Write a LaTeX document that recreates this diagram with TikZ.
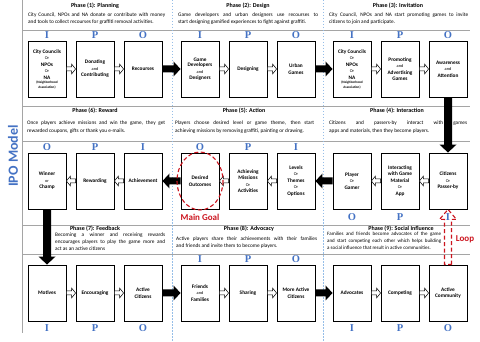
\documentclass[tikz,border=0pt]{standalone}
\usepackage{fontspec}
\setmainfont{Carlito}
\newfontfamily\ipofont{Liberation Serif}
\usetikzlibrary{calc}
\definecolor{ipoblue}{RGB}{68,114,196}
\definecolor{goalred}{RGB}{204,20,30}
\definecolor{sepgray}{RGB}{165,165,165}
\definecolor{dotblue}{RGB}{150,190,232}
\tolerance=9999
\hyphenpenalty=10000
\emergencystretch=8pt
\newcommand\ortxt{{\mdseries\fontsize{4.3}{6}\selectfont Or}}
\newcommand\andtxt{{\mdseries\fontsize{4.3}{6}\selectfont and}}
\newcommand\smalltxt[1]{{\fontsize{3.4}{4}\selectfont #1}}
% block arrows: style, from, to, body half, head half, head length
\newcommand\arrR[6]{\path[#1] ($(#2)+(0,#4)$) -- ($(#3)+(-#6,#4)$) -- ($(#3)+(-#6,#5)$) -- (#3) -- ($(#3)+(-#6,-#5)$) -- ($(#3)+(-#6,-#4)$) -- ($(#2)+(0,-#4)$) -- cycle;}
\newcommand\arrL[6]{\path[#1] ($(#2)+(0,#4)$) -- ($(#3)+(#6,#4)$) -- ($(#3)+(#6,#5)$) -- (#3) -- ($(#3)+(#6,-#5)$) -- ($(#3)+(#6,-#4)$) -- ($(#2)+(0,-#4)$) -- cycle;}
\newcommand\arrD[6]{\path[#1] ($(#2)+(#4,0)$) -- ($(#3)+(#4,-#6)$) -- ($(#3)+(#5,-#6)$) -- (#3) -- ($(#3)+(-#5,-#6)$) -- ($(#3)+(-#4,-#6)$) -- ($(#2)+(-#4,0)$) -- cycle;}
\newcommand\arrU[6]{\path[#1] ($(#2)+(#4,0)$) -- ($(#3)+(#4,#6)$) -- ($(#3)+(#5,#6)$) -- (#3) -- ($(#3)+(-#5,#6)$) -- ($(#3)+(-#4,#6)$) -- ($(#2)+(-#4,0)$) -- cycle;}
\begin{document}
\begin{tikzpicture}[x=1pt,y=-1pt,
 sep/.style={draw=sepgray, line width=0.8pt},
 dotv/.style={draw=dotblue, line width=1pt, dash pattern=on 1.5pt off 1.5pt},
 box/.style={draw, line width=0.9pt, fill=white, minimum width=38pt, minimum height=56pt, inner sep=0pt, align=center, font=\bfseries\fontsize{5.3}{6.5}\selectfont},
 ipo/.style={text=ipoblue, font=\ipofont\bfseries\fontsize{10.5}{11}\selectfont, inner sep=0pt},
 hdr/.style={font=\bfseries\fontsize{6}{7}\selectfont, inner sep=0pt},
 desc/.style={anchor=north west, inner sep=0pt, align=justify, font=\fontsize{5.3}{7.3}\selectfont},
 hol/.style={draw=black, fill=white, line width=0.5pt},
 blk/.style={fill=black},
 redd/.style={draw=goalred, line width=1.1pt, dash pattern=on 4pt off 2.5pt},
 redlbl/.style={text=goalred, font=\bfseries\fontsize{9}{10}\selectfont, inner sep=0pt}
]
\useasboundingbox (0,0) rectangle (480,342);
\fill[white] (0,0) rectangle (480,342);

% frame lines
\draw[sep] (22,0) -- (22,333);
\foreach \yy in {30,106,141,225,254} \draw[sep] (22,\yy) -- (470,\yy);
\draw[dotv] (172,0) -- (172,342);
\draw[dotv] (323,0) -- (323,342);

% side title
\node[rotate=90, text=ipoblue, font=\bfseries\fontsize{14}{14}\selectfont, inner sep=0pt] (title) at (13,156) {IPO Model};

% ---------- Row 1 ----------
\node[hdr] (h1) at (95,6) {Phase (1): Planning};
\node[hdr] (h2) at (248,6) {Phase (2): Design};
\node[hdr] (h3) at (398,6) {Phase (3): Invitation};
\node[desc, text width=137pt] (d1) at (28,12.3) {City Council, NPOs and NA donate or contribute with money\linebreak and tools to collect recourses for graffiti removal activities.};
\node[desc, text width=140pt] (d2) at (178,12.3) {Game developers and urban designers use recourses to\linebreak start designing gamified experiences to fight against graffiti.};
\node[desc, text width=139pt] (d3) at (329,12.3) {City Council, NPOs and NA start promoting games to invite\linebreak citizens to join and participate.};

\node[box] (cc1) at (47,69) {City Councils\\\ortxt\\NPOs\\\ortxt\\NA\\[-1.8pt]\smalltxt{(Neighborhood}\\[-2.4pt]\smalltxt{Association)}};
\node[box] (don) at (95,69) {Donating\\\andtxt\\Contributing};
\node[box] (rec) at (143,69) {Recourses};
\node[box] (gd) at (200,69) {Game\\[-1pt]Developers\\\andtxt\\Designers};
\node[box] (des) at (248,69) {Designing};
\node[box] (ug) at (296,69) {Urban\\Games};
\node[box] (cc3) at (352,69) {City Councils\\\ortxt\\NPOs\\\ortxt\\NA\\[-1.8pt]\smalltxt{(Neighborhood}\\[-2.4pt]\smalltxt{Association)}};
\node[box] (prom) at (400,69) {Promoting\\\andtxt\\Advertising\\Games};
\node[box] (aw) at (448,69) {Awareness\\\andtxt\\Attention};

\node[ipo] (a1) at (47,35) {I};
\node[ipo] (a2) at (95,35) {P};
\node[ipo] (a3) at (143,35) {O};
\node[ipo] (a4) at (200,35) {I};
\node[ipo] (a5) at (248,35) {P};
\node[ipo] (a6) at (296,35) {O};
\node[ipo] (a7) at (352,35) {I};
\node[ipo] (a8) at (400,35) {P};
\node[ipo] (a9) at (448,35) {O};

\arrR{hol}{cc1.east}{don.west}{2}{5}{4}
\arrR{hol}{don.east}{rec.west}{2}{5}{4}
\arrR{blk}{rec.east}{gd.west}{3.5}{7.5}{7}
\arrR{hol}{gd.east}{des.west}{2}{5}{4}
\arrR{hol}{des.east}{ug.west}{2}{5}{4}
\arrR{blk}{ug.east}{cc3.west}{3.5}{7.5}{7}
\arrR{hol}{cc3.east}{prom.west}{2}{5}{4}
\arrR{hol}{prom.east}{aw.west}{2}{5}{4}

% ---------- Row 2 ----------
\node[hdr] (h6) at (95,111) {Phase (6): Reward};
\node[hdr] (h5) at (244,111) {Phase (5): Action};
\node[hdr] (h4) at (397,111) {Phase (4): Interaction};
\node[desc, text width=138pt] (d6) at (27,121) {Once players achieve missions and win the game, they get\linebreak rewarded coupons, gifts or thank you e-mails.};
\node[desc, text width=139pt] (d5) at (175,121) {Players choose desired level or game theme, then start\linebreak achieving missions by removing graffiti, painting or drawing.};
\node[desc, text width=138pt] (d4) at (329,121) {Citizens and passers-by interact with games\linebreak apps and materials, then they become players.};

\node[box] (win) at (47,181) {Winner\\{\mdseries\fontsize{4.3}{6}\selectfont or}\\Champ};
\node[box] (rew) at (95,181) {Rewarding};
\node[box] (ach) at (143,181) {Achievement};
\node[box] (dout) at (200,181) {Desired\\Outcomes};
\node[box] (achm) at (248,181) {Achieving\\Missions\\\ortxt\\Activities};
\node[box] (lev) at (296,181) {Levels\\\ortxt\\Themes\\\ortxt\\Options};
\node[box] (play) at (352,181) {Player\\\ortxt\\Gamer};
\node[box] (inter) at (400,181) {Interacting\\with Game\\Material\\\ortxt\\App};
\node[box] (cit) at (448,181) {Citizens\\\ortxt\\Passer-by};

\node[ipo] (b1) at (47,147) {O};
\node[ipo] (b2) at (95,147) {P};
\node[ipo] (b3) at (143,147) {I};
\node[ipo] (b4) at (200,147) {O};
\node[ipo] (b5) at (248,147) {P};
\node[ipo] (b6) at (296,147) {I};
\node[ipo] (b7) at (352,217) {O};
\node[ipo] (b8) at (400,217) {P};
\node[ipo] (b9) at (448,217) {I};

\arrD{blk}{aw.south}{cit.north}{4}{8.5}{8}
\arrL{hol}{cit.west}{inter.east}{2}{5}{4}
\arrL{hol}{inter.west}{play.east}{2}{5}{4}
\arrL{blk}{play.west}{lev.east}{3.5}{7.5}{7}
\arrL{hol}{lev.west}{achm.east}{2}{5}{4}
\arrL{hol}{achm.west}{dout.east}{2}{5}{4}
\arrL{blk}{dout.west}{ach.east}{3.5}{7.5}{7}
\arrL{hol}{ach.west}{rew.east}{2}{5}{4}
\arrL{hol}{rew.west}{win.east}{2}{5}{4}

% ---------- Row 3 ----------
\node[hdr] (h7) at (95,229) {Phase (7): Feedback};
\node[hdr] (h8) at (249,229) {Phase (8): Advocacy};
\node[hdr] (h9) at (401,229) {Phase (9): Social Influence};
\node[desc, text width=110pt] (d7) at (55,232.3) {Becoming a winner and receiving rewards\linebreak encourages players to play the game more and\linebreak act as an active citizens};
\node[desc, text width=141pt] (d8) at (176,236.3) {Active players share their achievements with their families\linebreak and friends and invite them to become players.};
\node[desc, text width=114pt, font=\fontsize{5}{7}\selectfont] (d9) at (327,232.3) {Families and friends become advocates of the game\linebreak and start competing each other which helps building\linebreak a social influence that result in active communities.};

\node[box] (mot) at (47,293) {Motives};
\node[box] (enc) at (95,293) {Encouraging};
\node[box] (actc) at (143,293) {Active\\Citizens};
\node[box] (fam) at (200,293) {Friends\\\andtxt\\Families};
\node[box] (shar) at (248,293) {Sharing};
\node[box] (mac) at (296,293) {More Active\\Citizens};
\node[box] (adv) at (352,293) {Advocates};
\node[box] (comp) at (400,293) {Competing};
\node[box] (acom) at (448,293) {Active\\Community};

\node[ipo] (c1) at (47,328) {I};
\node[ipo] (c2) at (95,328) {P};
\node[ipo] (c3) at (143,328) {O};
\node[ipo] (c4) at (200,259) {I};
\node[ipo] (c5) at (248,259) {P};
\node[ipo] (c6) at (296,259) {O};
\node[ipo] (c7) at (352,328) {I};
\node[ipo] (c8) at (400,328) {P};
\node[ipo] (c9) at (448,328) {O};

\arrD{blk}{win.south}{mot.north}{4}{8.5}{8}
\arrR{hol}{mot.east}{enc.west}{2}{5}{4}
\arrR{hol}{enc.east}{actc.west}{2}{5}{4}
\arrR{blk}{actc.east}{fam.west}{3.5}{7.5}{7}
\arrR{hol}{fam.east}{shar.west}{2}{5}{4}
\arrR{hol}{shar.east}{mac.west}{2}{5}{4}
\arrR{blk}{mac.east}{adv.west}{3.5}{7.5}{7}
\arrR{hol}{adv.east}{comp.west}{2}{5}{4}
\arrR{hol}{comp.east}{acom.west}{2}{5}{4}

% ---------- highlights ----------
\draw[redd] (dout) ellipse [x radius=23, y radius=29];
\node[redlbl] (goal) at (200,217) {Main Goal};
\arrU{redd}{acom.north}{cit.south}{3.5}{8.5}{10}
\node[redlbl] (loop) at (465,239) {Loop};
\end{tikzpicture}
\end{document}
